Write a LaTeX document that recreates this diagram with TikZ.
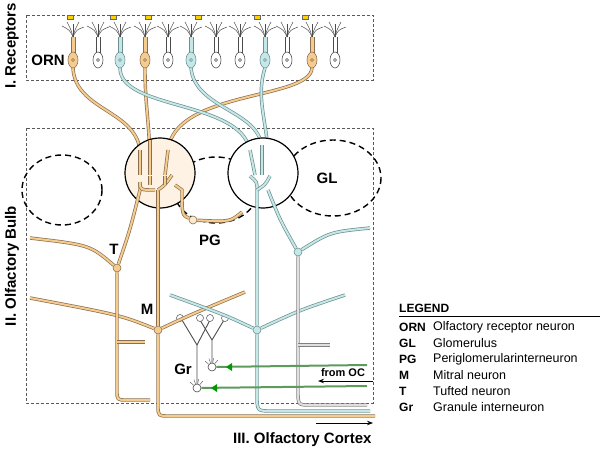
\documentclass[tikz,border=0pt]{standalone}
\usepackage{fontspec}
\setmainfont{Liberation Sans}
\usetikzlibrary{arrows.meta}
\definecolor{ornge}{HTML}{F6CB8E}
\definecolor{brwn}{HTML}{8A7052}
\definecolor{cyanl}{HTML}{C4E8E8}
\definecolor{cyand}{HTML}{6F8F8F}
\definecolor{grfib}{HTML}{5E9A5E}
\tikzset{
  fibo/.style={draw=brwn, double=ornge, double distance=2pt, line width=0.7pt},
  fibb/.style={draw=cyand, double=cyanl, double distance=2pt, line width=0.7pt},
  fibg/.style={draw=gray, double=gray!25, double distance=2pt, line width=0.7pt},
  lbl/.style={font=\bfseries\fontsize{15}{16}\selectfont},
  leg/.style={font=\fontsize{12.5}{13}\selectfont, anchor=west, inner sep=0pt},
  legb/.style={font=\bfseries\fontsize{12}{13}\selectfont, anchor=west, inner sep=0pt},
  box/.style={draw=gray!70!black, densely dashed, line width=0.6pt},
  gldash/.style={dash pattern=on 6pt off 4pt, line width=1.4pt},
  soma/.style={circle, inner sep=0pt, minimum size=8pt, line width=0.6pt},
}
\newcommand{\orncell}[3]{% x, fill, draw
  \draw[#3, fill=#2, line width=0.6pt] (#1-2,37) -- (#1-2,52) -- (#1+2,52) -- (#1+2,37);
  \draw[#3, fill=#2, line width=0.6pt] (#1,60) ellipse (5 and 8);
  \draw[#3, line width=0.4pt] (#1,60) circle (1.5);
  \foreach \dx/\dy in {-11/26,-6/22,0/24,6/22,11/27}
    \draw[black!70, line width=0.5pt] (#1,37) .. controls (#1+\dx*0.3,30) .. (#1+\dx,\dy);
}
\begin{document}
\begin{tikzpicture}[x=1pt,y=-1pt]
\useasboundingbox (0,0) rectangle (601,449);
% boxes
\draw[box] (26,15) rectangle (373,80);
\draw[box] (26,128) rectangle (373,403);
\node[lbl, rotate=90] (recl) at (12,46) {I. Receptors};
\node[lbl, rotate=90] (bulbl) at (12,266) {II. Olfactory Bulb};
% receptor axons
\draw[fibo] (73,68) .. controls (75,110) and (135,110) .. (140,150) -- (140,175);
\draw[fibo] (145,68) .. controls (145,110) and (150,120) .. (150,175);
\draw[fibo] (312,68) .. controls (310,100) and (175,90) .. (168,150) -- (165,175);
\draw[fibb] (120,68) .. controls (120,110) and (240,100) .. (250,150) -- (255,175);
\draw[fibb] (191,68) .. controls (195,110) and (262,110) .. (262,150) -- (262,175);
\draw[fibb] (265,68) .. controls (255,100) and (268,120) .. (270,175);
% glomeruli
\draw[gldash] (62,190) ellipse (40 and 35);
\draw[gldash] (216,190) ellipse (42 and 33);
\draw[gldash] (333,178) ellipse (48 and 38);
\draw[fill=ornge!25, line width=1.2pt] (160,173) circle (35);
\draw[fill=white, line width=1.2pt] (263,173) circle (35);
\draw[fibo] (140,150) -- (140,175);
\draw[fibo] (150,140) -- (150,175);
\draw[fibo] (168,150) -- (165,175);
\draw[fibb] (250,150) -- (255,175);
\draw[fibb] (262,145) -- (262,175);
\node[lbl] (gl) at (327,178) {GL};
% ORNs
\foreach \x in {98,168,216,240,287,335} \orncell{\x}{white}{black!70};
\foreach \x in {73,145,312} \orncell{\x}{ornge}{brwn};
\foreach \x in {120,191,265} \orncell{\x}{cyanl}{cyand};
\foreach \x in {70,113,148,198,257,305} \fill[yellow!70!orange, draw=black!60, line width=0.3pt] (\x-3,15) rectangle (\x+3,19);
\node[lbl] (orn) at (48,60) {ORN};
% somas
\node[soma, draw=brwn, fill=ornge] (tcell) at (117,268) {};
\node[soma, draw=brwn, fill=ornge] (mcell) at (158,330) {};
\node[soma, draw=cyand, fill=cyanl] (mb) at (257,330) {};
\node[soma, draw=cyand, fill=cyanl] (tb) at (298,252) {};
\node[soma, draw=brwn, fill=ornge!40] (pg) at (193,220) {};
\node[soma, draw=black!70, fill=white] (gr1) at (212,367) {};
\node[soma, draw=black!70, fill=white] (gr2) at (197,388) {};
\node[lbl] (tl) at (114,249) {T};
\node[lbl] (ml) at (147,309) {M};
\node[lbl] (pgl) at (210,240) {PG};
\node[lbl] (grl) at (183,369) {Gr};
% granule dendrites
\draw[black!70, line width=0.9pt] (gr1) -- (212,340) -- (200,320) (212,340) -- (224,320);
\draw[black!70, line width=0.9pt] (gr2) -- (197,345) -- (182,320) (197,345) -- (210,320);
\foreach \x in {180,200,210,225} \draw[black!70, fill=white, line width=0.5pt] (\x,318) circle (3.5);
\foreach \a in {220,250,280,310} {\draw[black!70] (gr1) -- ++(\a:9); \draw[black!70] (gr2) -- ++(\a:9);}
% dendrites and axons
\draw[fibo] (mcell) .. controls (120,315) .. (30,298);
\draw[fibo] (mcell) .. controls (190,315) .. (245,292);
\draw[fibo] (tcell) .. controls (90,245) .. (30,238);
\draw[fibo] (tcell) .. controls (130,230) .. (140,190) -- (140,182);
\draw[fibo] (mcell) -- (158,190);
\draw[fibo] (140,182) .. controls (140,190) .. (155,190) (158,190) .. controls (165,185) .. (172,175);
\draw[fibo] (150,176) -- (150,185) (165,176) -- (165,185);
\draw[fibo] (pg) .. controls (182,215) .. (182,190) -- (175,185);
\draw[fibo] (pg) .. controls (230,222) .. (242,212);
\draw[fibb] (mb) .. controls (225,315) .. (170,295);
\draw[fibb] (mb) .. controls (300,310) .. (345,295);
\draw[fibb] (mb) -- (257,190) .. controls (257,182) .. (250,176);
\draw[fibb] (257,190) .. controls (265,185) .. (270,176);
\draw[fibb] (tb) .. controls (280,220) .. (268,190);
\draw[fibb] (tb) .. controls (330,232) .. (370,228);
\draw[fibo] (tcell) -- (117,390) .. controls (117,400) .. (127,400) -- (150,400);
\draw[fibo] (117,342) -- (145,342);
\draw[fibo] (mcell) -- (158,405) .. controls (158,416) .. (170,416) -- (375,416);
\draw[fibb] (mb) -- (257,395) .. controls (257,411) .. (272,411) -- (370,411);
\draw[fibg] (tb) -- (298,390) .. controls (298,405) .. (310,405) -- (367,405);
\draw[fibg] (298,345) -- (330,345);
% centrifugal input
\draw[grfib, line width=2pt] (gr1) -- (367,365);
\draw[grfib, line width=2pt] (gr2) -- (367,386);
\fill[green!60!black] (226,367) -- (232,363) -- (232,371) -- cycle;
\fill[green!60!black] (211,388) -- (217,384) -- (217,392) -- cycle;
\node[font=\bfseries\fontsize{11}{12}\selectfont] (oc) at (343,373) {from OC};
\draw[-{Stealth[length=6pt]}, line width=0.9pt] (373,381) -- (318,381);
\draw[-{Stealth[length=6pt]}, line width=0.9pt] (316,423) -- (373,423);
\node[lbl, anchor=east] (ctx) at (375,440) {III. Olfactory Cortex};
% legend
\node[legb] (legt) at (399,308) {LEGEND};
\draw[line width=0.8pt] (399,316) -- (600,316);
\foreach \k/\d [count=\i] in {ORN/Olfactory receptor neuron, GL/Glomerulus, PG/Periglomerularinterneuron, M/Mitral neuron, T/Tufted neuron, Gr/Granule interneuron} {
  \node[legb] (k\i) at (399,311+\i*16) {\k};
  \node[leg] (d\i) at (433,311+\i*16) {\d};
}
\end{tikzpicture}
\end{document}
